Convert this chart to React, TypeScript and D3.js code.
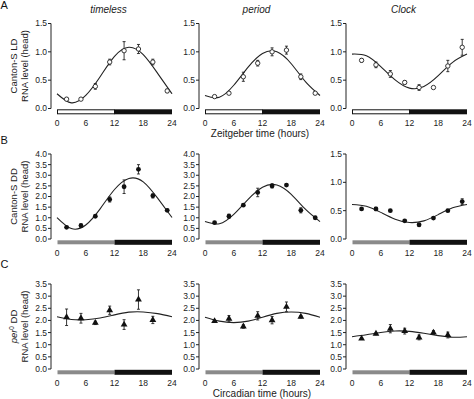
import React from "react";
import * as d3 from "d3";

// Sampling times (hours) of the RNA measurements and of the cosinor fit curves
const sampleTimes = [2, 5, 8, 11, 14, 17, 20, 23];
const sampleTimesPer0 = [2, 5, 8, 11, 14, 17, 20];
const fitTimes = [0, 3, 6, 9, 12, 15, 18, 21, 24];
const xTicks = [0, 6, 12, 18, 24];

// Row A: Canton-S in light/dark
const timLD = [0.165, 0.165, 0.39, 0.82, 1.02, 1.05, 0.82, 0.31];
const timLDErr = [0.02, 0.02, 0.05, 0.05, 0.16, 0.08, 0.05, 0.03];
const timLDFit = [0.26, 0.1, 0.23, 0.56, 0.92, 1.08, 0.95, 0.62, 0.26];
const perLD = [0.21, 0.27, 0.56, 0.8, 1.0, 1.03, 0.56, 0.27];
const perLDErr = [0.02, 0.02, 0.08, 0.05, 0.07, 0.07, 0.05, 0.02];
const perLDFit = [0.23, 0.2, 0.41, 0.73, 0.97, 1.0, 0.79, 0.47, 0.23];
const clkLD = [0.85, 0.77, 0.61, 0.46, 0.37, 0.37, 0.75, 1.08];
const clkLDErr = [0.03, 0.05, 0.06, 0.03, 0.05, 0.02, 0.1, 0.14];
const clkLDFit = [0.96, 0.93, 0.74, 0.505, 0.36, 0.39, 0.58, 0.815, 0.96];

// Row B: Canton-S in constant darkness
const timDD = [0.55, 0.63, 1.07, 1.86, 2.46, 3.28, 2.03, 1.35];
const timDDErr = [0.04, 0.09, 0.04, 0.12, 0.32, 0.22, 0.1, 0.05];
const timDDFit = [1.01, 0.49, 0.66, 1.42, 2.33, 2.85, 2.69, 1.92, 1.01];
const perDD = [0.77, 1.07, 1.59, 2.19, 2.5, 2.54, 1.35, 1.0];
const perDDErr = [0.04, 0.1, 0.05, 0.2, 0.1, 0.03, 0.12, 0.06];
const perDDFit = [0.82, 0.72, 1.16, 1.87, 2.44, 2.54, 2.1, 1.39, 0.82];
const clkDD = [0.53, 0.53, 0.5, 0.32, 0.25, 0.37, 0.5, 0.66];
const clkDDErr = [0.01, 0.03, 0.01, 0.01, 0.03, 0.01, 0.01, 0.05];
const clkDDFit = [0.61, 0.577, 0.47, 0.35, 0.29, 0.32, 0.43, 0.55, 0.61];

// Row C: per0 mutant in constant darkness
const timPer0 = [2.13, 2.09, 1.9, 2.42, 1.83, 2.86, 2.02];
const timPer0Err = [0.34, 0.2, 0.07, 0.17, 0.2, 0.4, 0.15];
const timPer0Fit = [2.15, 2.04, 2.03, 2.1, 2.23, 2.34, 2.35, 2.28, 2.15];
const perPer0 = [1.97, 2.07, 1.75, 2.19, 2.01, 2.56, 2.15];
const perPer0Err = [0.03, 0.13, 0.07, 0.17, 0.15, 0.2, 0.05];
const perPer0Fit = [2.13, 1.97, 1.91, 1.97, 2.13, 2.29, 2.35, 2.29, 2.13];
const clkPer0 = [1.25, 1.45, 1.66, 1.56, 1.3, 1.5, 1.4];
const clkPer0Err = [0.03, 0.04, 0.17, 0.12, 0.1, 0.08, 0.12];
const clkPer0Fit = [1.33, 1.41, 1.505, 1.565, 1.55, 1.47, 1.375, 1.31, 1.33];

const geneTitles = ["timeless", "period", "Clock"];

type Marker = "openCircle" | "circle" | "triangle";

interface PanelSpec {
  times: number[];
  values: number[];
  errors: number[];
  fit: number[];
  yMax: number;
  marker: Marker;
  lightBar: string;
}

const FONT = "'Liberation Sans', Arial, Helvetica, sans-serif";

const colLeft = [57, 205, 352];
const plotW = 115;
const rowTop = [23.5, 154, 284];
const plotH = 85;

function Panel({ spec, left, top }: { spec: PanelSpec; left: number; top: number }) {
  const x = d3.scaleLinear().domain([0, 24]).range([left, left + plotW]);
  const y = d3.scaleLinear().domain([0, spec.yMax]).range([top + plotH, top]);
  const yTicks = d3.range(0, spec.yMax + 0.001, 0.5);
  const axisX = left - 6;
  const line = d3
    .line<number>()
    .x((_, i) => x(fitTimes[i]))
    .y((v) => y(v))
    .curve(d3.curveNatural);
  const barY = y(0) + 0.8;
  const barH = 5;
  const tri = d3.symbol(d3.symbolTriangle, 20)() as string;

  return (
    <g>
      {/* y axis */}
      <line x1={axisX} x2={axisX} y1={y(spec.yMax)} y2={y(0)} stroke="#222" strokeWidth={1} />
      {yTicks.map((t) => (
        <g key={t}>
          <line x1={axisX - 3} x2={axisX} y1={y(t)} y2={y(t)} stroke="#222" strokeWidth={1} />
          <text
            x={axisX - 4}
            y={y(t)}
            dy="0.35em"
            textAnchor="end"
            fontSize={8.5}
            fontFamily={FONT}
            fill="#222"
          >
            {d3.format(".1f")(t)}
          </text>
        </g>
      ))}
      {/* light / dark bar */}
      <rect
        x={x(0) + 0.5}
        y={barY + 0.5}
        width={x(12) - x(0) - 0.5}
        height={barH - 1}
        fill={spec.lightBar}
        stroke={spec.lightBar === "#ffffff" ? "#111" : "none"}
        strokeWidth={1}
      />
      <rect x={x(12)} y={barY} width={x(24) - x(12)} height={barH} fill="#111" />
      {xTicks.map((t) => (
        <text
          key={t}
          x={x(t)}
          y={y(0) + 17}
          textAnchor="middle"
          fontSize={8.5}
          fontFamily={FONT}
          fill="#222"
        >
          {t}
        </text>
      ))}
      {/* fitted curve */}
      <path d={line(spec.fit) ?? ""} fill="none" stroke="#222" strokeWidth={1.1} />
      {/* error bars */}
      {spec.times.map((t, i) => {
        const v = spec.values[i];
        const e = spec.errors[i];
        const cx = x(t);
        return (
          <g key={"e" + t} stroke="#222" strokeWidth={0.9}>
            <line x1={cx} x2={cx} y1={y(v + e)} y2={y(v - e)} />
            <line x1={cx - 1.5} x2={cx + 1.5} y1={y(v + e)} y2={y(v + e)} />
            <line x1={cx - 1.5} x2={cx + 1.5} y1={y(v - e)} y2={y(v - e)} />
          </g>
        );
      })}
      {/* data markers */}
      {spec.times.map((t, i) => {
        const cx = x(t);
        const cy = y(spec.values[i]);
        if (spec.marker === "triangle") {
          return <path key={"m" + t} d={tri} transform={`translate(${cx},${cy})`} fill="#111" />;
        }
        if (spec.marker === "circle") {
          return <circle key={"m" + t} cx={cx} cy={cy} r={2.4} fill="#111" />;
        }
        return <circle key={"m" + t} cx={cx} cy={cy} r={2.2} fill="#fff" stroke="#222" strokeWidth={0.9} />;
      })}
    </g>
  );
}

const rows: PanelSpec[][] = [
  [
    { times: sampleTimes, values: timLD, errors: timLDErr, fit: timLDFit, yMax: 1.5, marker: "openCircle", lightBar: "#ffffff" },
    { times: sampleTimes, values: perLD, errors: perLDErr, fit: perLDFit, yMax: 1.5, marker: "openCircle", lightBar: "#ffffff" },
    { times: sampleTimes, values: clkLD, errors: clkLDErr, fit: clkLDFit, yMax: 1.5, marker: "openCircle", lightBar: "#ffffff" },
  ],
  [
    { times: sampleTimes, values: timDD, errors: timDDErr, fit: timDDFit, yMax: 4, marker: "circle", lightBar: "#8a8a8a" },
    { times: sampleTimes, values: perDD, errors: perDDErr, fit: perDDFit, yMax: 4, marker: "circle", lightBar: "#8a8a8a" },
    { times: sampleTimes, values: clkDD, errors: clkDDErr, fit: clkDDFit, yMax: 1.5, marker: "circle", lightBar: "#8a8a8a" },
  ],
  [
    { times: sampleTimesPer0, values: timPer0, errors: timPer0Err, fit: timPer0Fit, yMax: 3.5, marker: "triangle", lightBar: "#8a8a8a" },
    { times: sampleTimesPer0, values: perPer0, errors: perPer0Err, fit: perPer0Fit, yMax: 3.5, marker: "triangle", lightBar: "#8a8a8a" },
    { times: sampleTimesPer0, values: clkPer0, errors: clkPer0Err, fit: clkPer0Fit, yMax: 3.5, marker: "triangle", lightBar: "#8a8a8a" },
  ],
];

const panelLetters = ["A", "B", "C"];
const letterY = [9, 144, 268];

export default function App() {
  const W = 474;
  const H = 399;
  return (
    <div style={{ position: "absolute", left: 0, top: 0 }}>
      <svg width={W} height={H} viewBox={`0 0 ${W} ${H}`} style={{ display: "block", background: "#fff" }}>
        <rect width={W} height={H} fill="#fff" />
        {geneTitles.map((g, i) => (
          <text
            key={g}
            x={colLeft[i] + plotW / 2 - 6}
            y={12.5}
            textAnchor="middle"
            fontSize={10}
            fontStyle="italic"
            fontFamily={FONT}
            fill="#222"
          >
            {g}
          </text>
        ))}
        {panelLetters.map((l, i) => (
          <text key={l} x={0.5} y={letterY[i]} fontSize={11} fontFamily={FONT} fill="#111">
            {l}
          </text>
        ))}
        {rows.map((row, r) =>
          row.map((spec, c) => <Panel key={`${r}-${c}`} spec={spec} left={colLeft[c]} top={rowTop[r]} />)
        )}
        {/* row y-axis titles */}
        {rowTop.map((top, r) => {
          const cy = top + plotH / 2;
          return (
            <g key={"yl" + r} transform={`translate(0,${cy}) rotate(-90)`} fontFamily={FONT} fontSize={9.5} fill="#222">
              <text x={0} y={17} textAnchor="middle">
                {r === 0 ? "Canton-S LD" : r === 1 ? "Canton-S DD" : (
                  <>
                    <tspan fontStyle="italic">per</tspan>
                    <tspan dy={-3} fontSize={6.5}>0</tspan>
                    <tspan dy={3}> DD</tspan>
                  </>
                )}
              </text>
              <text x={0} y={28} textAnchor="middle">
                RNA level (head)
              </text>
            </g>
          );
        })}
        <text x={260} y={136.5} textAnchor="middle" fontSize={10} fontFamily={FONT} fill="#222">
          Zeitgeber time (hours)
        </text>
        <text x={262} y={396.5} textAnchor="middle" fontSize={10} fontFamily={FONT} fill="#222">
          Circadian time (hours)
        </text>
      </svg>
    </div>
  );
}
